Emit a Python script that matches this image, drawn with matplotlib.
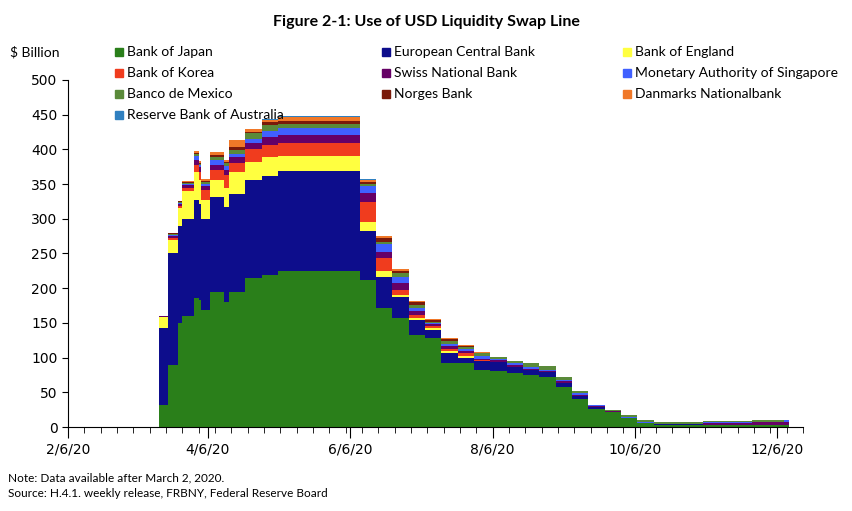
import matplotlib
matplotlib.use("Agg")
import matplotlib.pyplot as plt
import matplotlib.dates as mdates
import numpy as np
import pandas as pd

banks = ["Bank of Japan", "European Central Bank", "Bank of England",
         "Bank of Korea", "Swiss National Bank", "Monetary Authority of Singapore",
         "Banco de Mexico", "Norges Bank", "Danmarks Nationalbank", "Reserve Bank of Australia"]
colors = ["#2a7f1a", "#0d0d8c", "#ffff40", "#f03c1e", "#660066", "#4060ff",
          "#5a8a3a", "#7a1a0a", "#f07828", "#3080c0"]

dates = ["2020-02-06", "2020-03-16", "2020-03-20", "2020-03-24", "2020-03-26", "2020-03-31",
         "2020-04-02", "2020-04-03", "2020-04-07", "2020-04-13", "2020-04-15", "2020-04-22",
         "2020-04-29", "2020-05-06", "2020-06-10", "2020-06-17", "2020-06-24", "2020-07-01",
         "2020-07-08", "2020-07-15", "2020-07-22", "2020-07-29", "2020-08-05", "2020-08-12",
         "2020-08-19", "2020-08-26", "2020-09-02", "2020-09-09", "2020-09-16", "2020-09-23",
         "2020-09-30", "2020-10-07", "2020-10-14", "2020-11-04", "2020-11-25", "2020-12-09",
         "2020-12-10", "2020-12-11"]

# cumulative stack tops ($ billion), in bank order
top_jp  = [0, 32, 90, 150, 160, 186, 183, 168, 194, 180, 195, 215, 219, 225, 212, 171, 157, 133, 128, 92, 92, 82, 81, 78, 75, 72, 58, 40, 26, 22, 13, 6, 3, 3, 3, 3, 3, 3]
top_ecb = [0, 143, 250, 290, 300, 327, 322, 300, 332, 317, 336, 356, 362, 369, 282, 216, 187, 154, 140, 107, 100, 95, 94, 87, 82, 79, 63, 45, 29, 22, 13, 6, 4, 3, 3, 3, 3, 3]
top_boe = [0, 158, 270, 315, 340, 367, 356, 327, 356, 344, 367, 382, 389, 390, 296, 225, 190, 157, 142, 110, 103, 95, 94, 87, 82, 79, 63, 45, 29, 22, 13, 6, 4, 3, 3, 3, 3, 3]
top_kr  = [0, 158, 272, 318, 345, 378, 368, 341, 370, 363, 380, 400, 406, 409, 324, 243, 197, 161, 145, 113, 106, 97, 94, 87, 82, 79, 63, 45, 29, 22, 13, 6, 4, 3, 3, 3, 3, 3]
top_snb = [0, 160, 275, 321, 348, 385, 374, 347, 378, 371, 389, 409, 418, 421, 337, 252, 207, 167, 148, 117, 109, 98, 96, 89, 84, 80, 66, 46, 30, 23, 13, 6, 4, 6, 7, 7, 7, 7]
top_mas = [0, 160, 277, 323, 350, 390, 377, 350, 385, 376, 393, 415, 427, 431, 347, 263, 216, 171, 150, 120, 112, 102, 98, 92, 87, 82, 68, 49, 31, 23, 15, 7.5, 4, 7.5, 7, 10, 10, 12]
top_mx  = [0, 160, 278, 324, 352, 393, 379, 353, 389, 380, 399, 423, 435, 436, 350, 267, 222, 176, 152, 124, 115, 106, 101, 95, 92, 88, 72, 52, 32, 25, 17, 10, 7, 8, 10, 10, 10, 12]
top_no  = [0, 160, 279, 325, 353, 395, 381, 355, 392, 382, 403, 425, 440, 441, 353, 272, 225, 180, 154, 127, 117, 106, 101, 95, 92, 88, 72, 52, 32, 25, 17, 10, 7, 8, 10, 10, 10, 12]
top_dk  = [0, 160, 280, 326, 355, 398, 383, 357, 396, 385, 413, 430, 443, 446, 356, 275, 227, 182, 155, 128, 118, 108, 101, 95, 92, 88, 72, 52, 32, 25, 17, 10, 7, 8, 10, 10, 10, 12]
top_rba = [0, 160, 280, 326, 355, 398, 383, 357, 396, 385, 413, 430, 444, 448, 357, 275, 227, 182, 155, 128, 118, 108, 101, 95, 92, 88, 72, 52, 32, 25, 17, 10, 7, 8, 10, 10, 10, 12]

tops = [top_jp, top_ecb, top_boe, top_kr, top_snb, top_mas, top_mx, top_no, top_dk, top_rba]

x = pd.to_datetime(dates)
fig = plt.figure(figsize=(8.53, 5.11), dpi=100)
ax = fig.add_axes([68/853, 1 - 427/511, (803-68)/853, (427-80)/511])
plt.rcParams['font.family'] = ['Lato', 'DejaVu Sans']

prev = np.zeros(len(dates))
for i, t in enumerate(tops):
    t = np.maximum(np.array(t, dtype=float), prev)
    ax.fill_between(x, prev, t, step="post", color=colors[i], linewidth=0, label=banks[i])
    prev = t

ax.set_xlim(pd.Timestamp("2020-02-06"), pd.Timestamp("2020-12-17"))
ax.set_ylim(0, 500)
ax.set_yticks(range(0, 501, 50))
ax.xaxis.set_major_locator(mdates.MonthLocator(bymonth=[2, 4, 6, 8, 10, 12], bymonthday=6))
ax.xaxis.set_major_formatter(mdates.DateFormatter("%-m/%-d/%y"))
ax.xaxis.set_minor_locator(mdates.WeekdayLocator(byweekday=mdates.TH))
ax.tick_params(axis="x", which="major", length=8, labelsize=10)
ax.tick_params(axis="x", which="minor", length=4)
ax.tick_params(axis="y", labelsize=10, length=4)
for s in ["top", "right"]:
    ax.spines[s].set_visible(False)

fig.text(0.5, 1 - 22/511, "Figure 2-1: Use of USD Liquidity Swap Line", ha="center", va="center",
         fontsize=11.5, fontweight="bold")
fig.text(10/853, 1 - 52/511, "$ Billion", ha="left", va="center", fontsize=10)

cols = [115, 382, 623]
rows = [52, 73, 94, 115]
for i, b in enumerate(banks):
    r, c = divmod(i, 3)
    fx, fy = cols[c] / 853, 1 - rows[r] / 511
    fig.patches.append(plt.Rectangle((fx, fy - 4/511), 8/853, 8/511, color=colors[i],
                                     transform=fig.transFigure, figure=fig))
    fig.text(fx + 12/853, fy, b, ha="left", va="center", fontsize=10)

fig.text(8/853, 1 - 478/511, "Note: Data available after March 2, 2020.", fontsize=8.5, va="center")
fig.text(8/853, 1 - 493/511, "Source: H.4.1. weekly release, FRBNY, Federal Reserve Board", fontsize=8.5, va="center")

fig.savefig("out.png", dpi=100)
